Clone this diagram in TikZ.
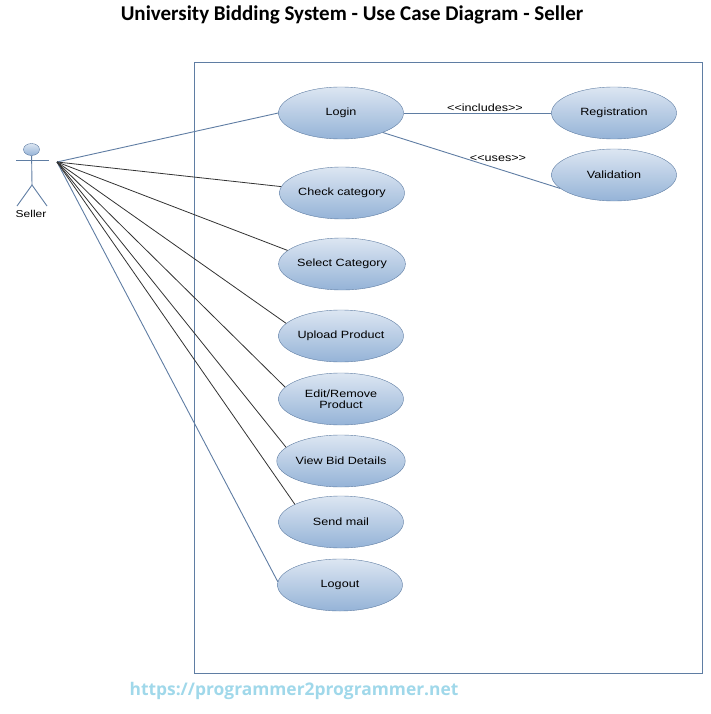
\documentclass[tikz,border=0pt]{standalone}
\usepackage{fontspec}
\setmainfont{Liberation Sans}
\newfontfamily\titlefont{Carlito}
\newfontfamily\urlfont{Open Sans}
\newfontfamily\casefont[FakeStretch=1.2]{Liberation Sans}
\usetikzlibrary{shapes.geometric,positioning}
\definecolor{umlline}{HTML}{5F7DA3}
\definecolor{umltop}{HTML}{DCE6F2}
\definecolor{umlbottom}{HTML}{95B3D7}
\definecolor{urlblue}{HTML}{A0D8EA}

\begin{document}
\begin{tikzpicture}[
    x=1pt,
    y=-1pt,
    usecase/.style={
        draw = umlline,
        ellipse,
        top color = umltop,
        bottom color = umlbottom,
        minimum width = 125pt,
        minimum height = 52pt,
        inner sep = 0pt,
        align = center,
        font = \casefont\fontsize{10.5}{11}\selectfont
    },
    stereo/.style={
        font = \casefont\fontsize{10.5}{11}\selectfont,
        inner sep = 0pt
    },
    blueline/.style={
        draw = umlline,
        line width = 0.9pt
    },
    blackline/.style={
        draw = black!80,
        line width = 0.8pt
    }
    ]

\useasboundingbox (0,0) rectangle (710,714);

% title and frame
\node[font=\titlefont\bfseries\fontsize{21}{23}\selectfont] (title) at (352,15) {University Bidding System - Use Case Diagram - Seller};
\node[draw=umlline, line width=0.9pt, minimum width=508pt, minimum height=611pt, inner sep=0pt] (frame) at (448,367.5) {};
\node[font=\urlfont\bfseries\fontsize{17.4}{20}\selectfont, text=urlblue] (url) at (294,691) {https://programmer2programmer.net};

% actor
\node[ellipse, draw=umlline, top color=umltop, bottom color=umlbottom, minimum width=16pt, minimum height=12pt, inner sep=0pt] (head) at (31.5,149.5) {};
\coordinate (hip) at (32,185);
\coordinate (armL) at (16,160);
\coordinate (armR) at (49,160);
\coordinate (footL) at (17,206);
\coordinate (footR) at (47,206);
\coordinate (hand) at (57,162);
\draw[blueline] (head) -- (hip);
\draw[blueline] (armL) -- (armR);
\draw[blueline] (footL) -- (hip) -- (footR);
\node[font=\casefont\fontsize{10}{11}\selectfont] (seller) at (31,214) {Seller};

% use cases
\node[usecase] (login) at (341,113) {Login};
\node[usecase] (register) at (614,113) {Registration};
\node[usecase] (valid) at (614,175) {Validation};
\node[usecase] (check) at (342,193) {Check category};
\node[usecase] (select) at (342,264) {Select Category};
\node[usecase] (upload) at (341,336) {Upload Product};
\node[usecase] (edit) at (341,399) {Edit/Remove\\Product};
\node[usecase] (view) at (341,461) {View Bid Details};
\node[usecase] (send) at (341,522) {Send mail};
\node[usecase] (logout) at (340,585) {Logout};

% connectors
\draw[blueline] (hand) -- (login.west);
\draw[blueline] (hand) -- (logout.177);
\foreach \uc/\ang in {check/174,select/166,upload/167,edit/168,view/166,send/159}
    \draw[blackline] (hand) -- (\uc.\ang);
\draw[blueline] (login.east) -- (register.west);
\draw[blueline] (login.-25) -- (valid.-166);
\node[stereo] (inc) at (485,107.5) {<{}<includes>{}>};
\node[stereo] (uses) at (498,158) {<{}<uses>{}>};
\end{tikzpicture}
\end{document}
